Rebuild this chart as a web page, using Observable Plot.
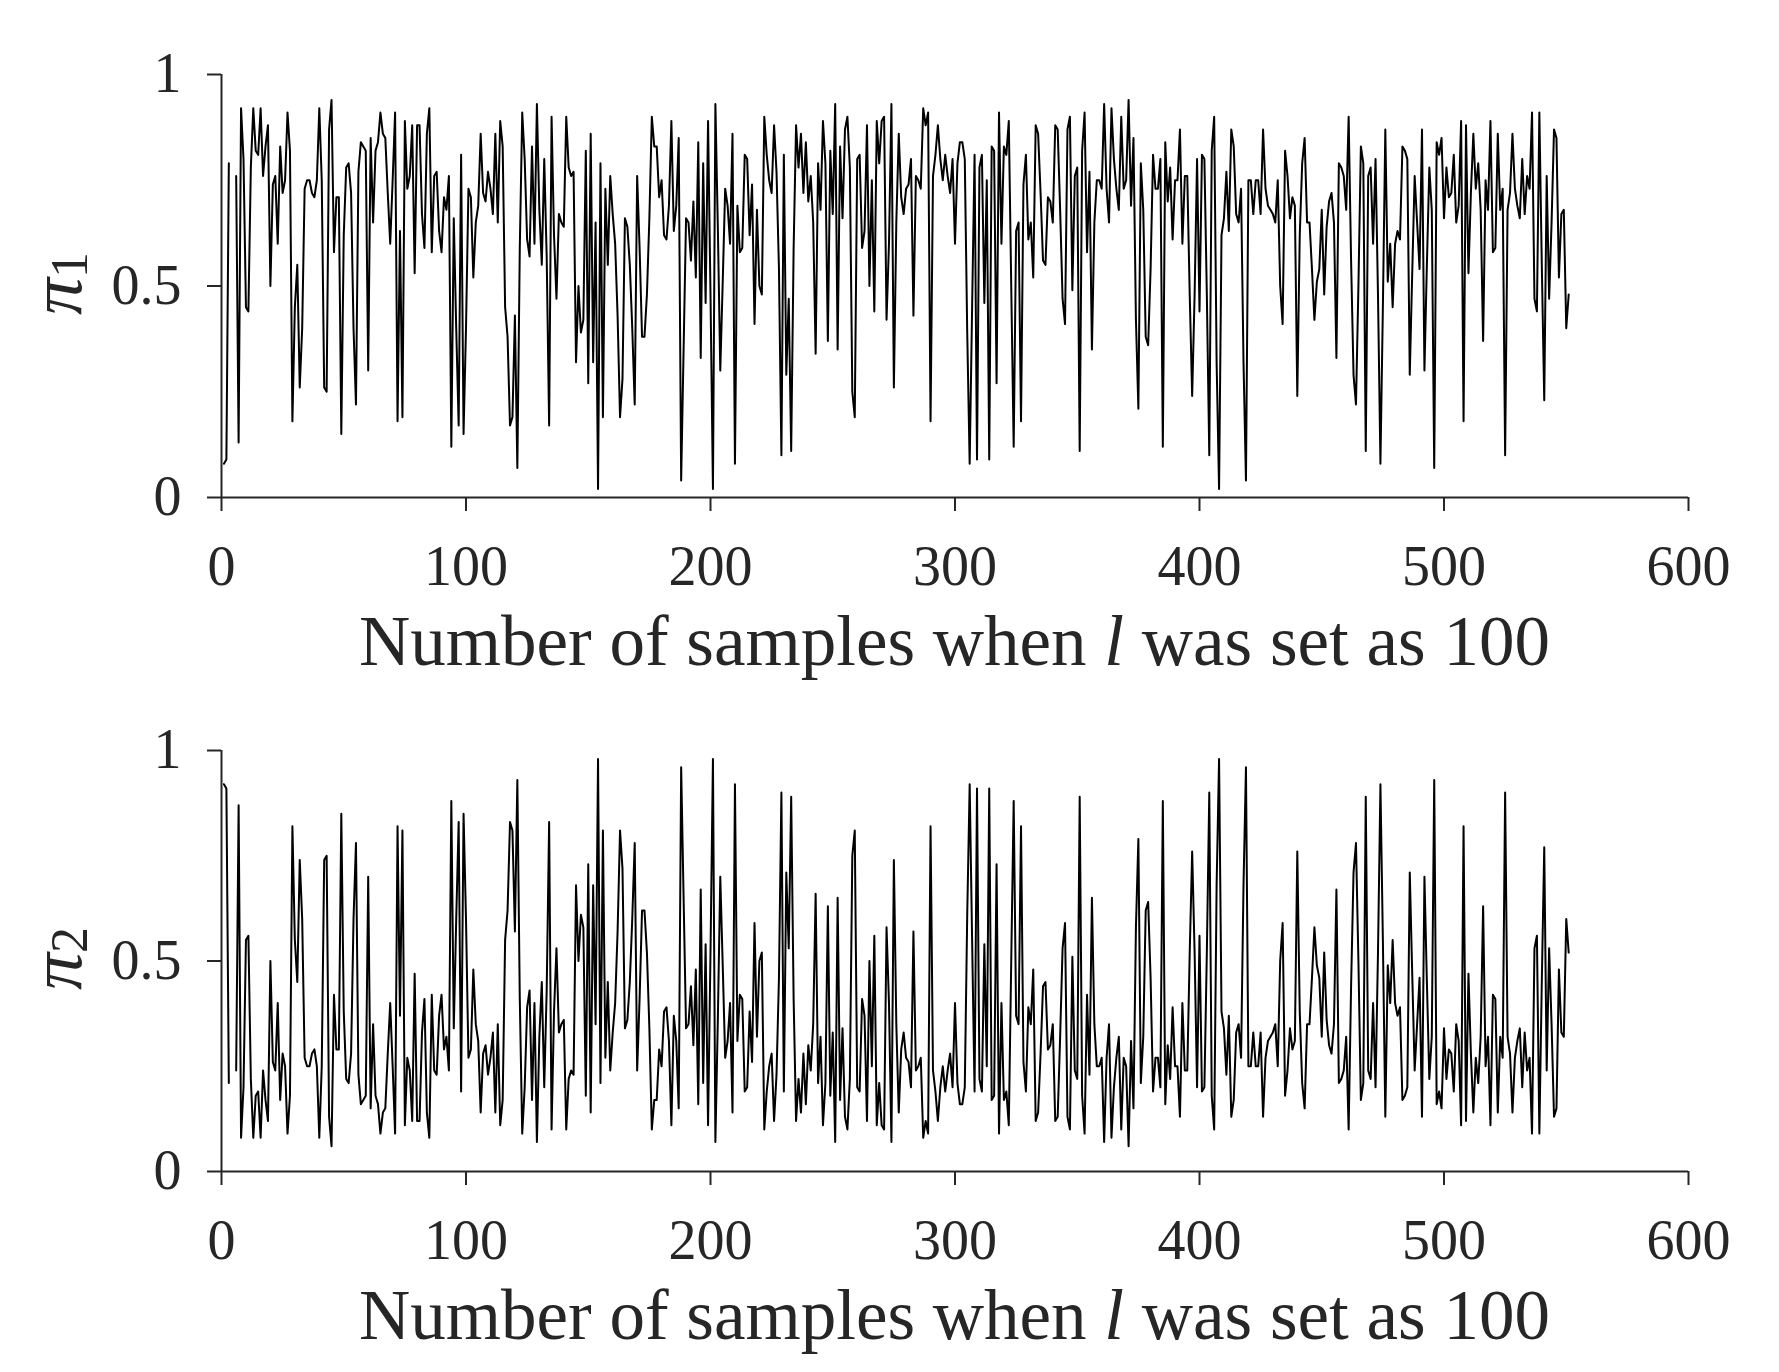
<!DOCTYPE html>
<html><head><meta charset="utf-8">
<script src="https://cdn.jsdelivr.net/npm/d3@7"></script>
<script src="https://cdn.jsdelivr.net/npm/@observablehq/plot@0.6"></script>
<style>
html,body{margin:0;padding:0;background:#fff;overflow:hidden;}
#chart svg{display:block;}
</style></head><body><div id="chart"></div>
<script>
// pi_1 trace, samples 1..551 (samples 4 and 5 are gaps in the original trace)
const pi1 = [
0.08,0.09,0.79,null,null,0.76,0.13,0.92,0.80,0.45,
0.44,0.78,0.92,0.82,0.81,0.92,0.76,0.83,0.88,0.50,
0.74,0.76,0.60,0.83,0.72,0.75,0.91,0.82,0.18,0.45,
0.55,0.26,0.40,0.73,0.75,0.75,0.72,0.71,0.75,0.92,
0.75,0.26,0.25,0.87,0.94,0.58,0.71,0.71,0.15,0.62,
0.78,0.79,0.72,0.40,0.22,0.77,0.84,0.83,0.82,0.30,
0.85,0.65,0.82,0.84,0.91,0.86,0.85,0.72,0.60,0.75,
0.91,0.18,0.63,0.19,0.89,0.73,0.76,0.88,0.53,0.88,
0.88,0.67,0.59,0.86,0.92,0.58,0.76,0.77,0.63,0.58,
0.71,0.68,0.76,0.12,0.66,0.40,0.17,0.81,0.15,0.40,
0.73,0.71,0.52,0.65,0.69,0.86,0.72,0.70,0.77,0.73,
0.67,0.86,0.65,0.89,0.83,0.45,0.38,0.17,0.19,0.43,
0.07,0.59,0.91,0.80,0.61,0.57,0.83,0.60,0.93,0.68,
0.55,0.80,0.57,0.17,0.90,0.62,0.47,0.67,0.65,0.64,
0.90,0.78,0.76,0.77,0.32,0.50,0.39,0.42,0.82,0.27,
0.86,0.32,0.65,0.02,0.79,0.19,0.73,0.55,0.76,0.67,
0.60,0.43,0.19,0.28,0.66,0.64,0.55,0.40,0.22,0.76,
0.59,0.38,0.38,0.48,0.66,0.90,0.83,0.83,0.71,0.75,
0.62,0.61,0.69,0.89,0.63,0.69,0.85,0.04,0.35,0.66,
0.65,0.56,0.70,0.52,0.84,0.33,0.79,0.46,0.89,0.48,
0.02,0.93,0.64,0.30,0.51,0.73,0.69,0.60,0.86,0.08,
0.69,0.58,0.59,0.81,0.80,0.62,0.74,0.41,0.68,0.50,
0.48,0.90,0.81,0.75,0.72,0.88,0.77,0.54,0.10,0.81,
0.29,0.47,0.11,0.59,0.88,0.78,0.86,0.72,0.84,0.70,
0.76,0.65,0.34,0.79,0.68,0.89,0.79,0.37,0.82,0.67,
0.93,0.35,0.83,0.66,0.87,0.90,0.78,0.25,0.19,0.80,
0.81,0.59,0.63,0.88,0.50,0.75,0.44,0.89,0.79,0.89,
0.90,0.42,0.60,0.93,0.26,0.65,0.86,0.71,0.67,0.73,
0.74,0.80,0.43,0.76,0.75,0.73,0.92,0.88,0.91,0.18,
0.76,0.81,0.88,0.80,0.75,0.81,0.76,0.72,0.80,0.60,
0.79,0.84,0.84,0.80,0.39,0.08,0.45,0.81,0.09,0.78,
0.81,0.46,0.75,0.09,0.83,0.82,0.27,0.91,0.60,0.83,
0.81,0.89,0.50,0.12,0.63,0.65,0.18,0.74,0.81,0.61,
0.65,0.52,0.88,0.86,0.72,0.56,0.55,0.71,0.70,0.65,
0.88,0.87,0.68,0.47,0.41,0.87,0.90,0.49,0.76,0.78,
0.11,0.82,0.91,0.58,0.77,0.35,0.65,0.75,0.75,0.73,
0.93,0.73,0.65,0.92,0.80,0.73,0.68,0.90,0.73,0.75,
0.94,0.69,0.85,0.42,0.21,0.79,0.68,0.38,0.36,0.54,
0.81,0.73,0.73,0.80,0.12,0.84,0.70,0.78,0.61,0.75,
0.75,0.87,0.60,0.76,0.76,0.48,0.24,0.48,0.80,0.44,
0.81,0.80,0.48,0.10,0.82,0.90,0.32,0.02,0.62,0.66,
0.77,0.63,0.87,0.83,0.67,0.65,0.73,0.32,0.04,0.75,
0.75,0.67,0.75,0.75,0.67,0.87,0.73,0.69,0.68,0.67,
0.65,0.75,0.50,0.41,0.82,0.76,0.66,0.71,0.69,0.24,
0.62,0.79,0.85,0.65,0.65,0.54,0.42,0.51,0.54,0.68,
0.48,0.64,0.70,0.72,0.65,0.33,0.79,0.78,0.76,0.68,
0.90,0.56,0.29,0.22,0.50,0.83,0.79,0.11,0.76,0.78,
0.60,0.80,0.48,0.08,0.45,0.87,0.51,0.60,0.45,0.60,
0.63,0.61,0.83,0.82,0.80,0.29,0.53,0.76,0.65,0.54,
0.87,0.30,0.55,0.78,0.68,0.07,0.84,0.81,0.85,0.66,
0.78,0.71,0.72,0.81,0.65,0.69,0.89,0.18,0.88,0.53,
0.72,0.86,0.73,0.79,0.68,0.37,0.75,0.68,0.89,0.58,
0.59,0.86,0.68,0.73,0.10,0.68,0.72,0.86,0.73,0.69,
0.66,0.80,0.67,0.76,0.73,0.91,0.47,0.44,0.91,0.55,
0.23,0.76,0.47,0.65,0.87,0.85,0.52,0.67,0.68,0.40,0.48
];
// pi_2 trace, samples 1..551
const pi2 = [
0.92,0.91,0.21,null,null,0.24,0.87,0.08,0.20,0.55,
0.56,0.22,0.08,0.18,0.19,0.08,0.24,0.17,0.12,0.50,
0.26,0.24,0.40,0.17,0.28,0.25,0.09,0.18,0.82,0.55,
0.45,0.74,0.60,0.27,0.25,0.25,0.28,0.29,0.25,0.08,
0.25,0.74,0.75,0.13,0.06,0.42,0.29,0.29,0.85,0.38,
0.22,0.21,0.28,0.60,0.78,0.23,0.16,0.17,0.18,0.70,
0.15,0.35,0.18,0.16,0.09,0.14,0.15,0.28,0.40,0.25,
0.09,0.82,0.37,0.81,0.11,0.27,0.24,0.12,0.47,0.12,
0.12,0.33,0.41,0.14,0.08,0.42,0.24,0.23,0.37,0.42,
0.29,0.32,0.24,0.88,0.34,0.60,0.83,0.19,0.85,0.60,
0.27,0.29,0.48,0.35,0.31,0.14,0.28,0.30,0.23,0.27,
0.33,0.14,0.35,0.11,0.17,0.55,0.62,0.83,0.81,0.57,
0.93,0.41,0.09,0.20,0.39,0.43,0.17,0.40,0.07,0.32,
0.45,0.20,0.43,0.83,0.10,0.38,0.53,0.33,0.35,0.36,
0.10,0.22,0.24,0.23,0.68,0.50,0.61,0.58,0.18,0.73,
0.14,0.68,0.35,0.98,0.21,0.81,0.27,0.45,0.24,0.33,
0.40,0.57,0.81,0.72,0.34,0.36,0.45,0.60,0.78,0.24,
0.41,0.62,0.62,0.52,0.34,0.10,0.17,0.17,0.29,0.25,
0.38,0.39,0.31,0.11,0.37,0.31,0.15,0.96,0.65,0.34,
0.35,0.44,0.30,0.48,0.16,0.67,0.21,0.54,0.11,0.52,
0.98,0.07,0.36,0.70,0.49,0.27,0.31,0.40,0.14,0.92,
0.31,0.42,0.41,0.19,0.20,0.38,0.26,0.59,0.32,0.50,
0.52,0.10,0.19,0.25,0.28,0.12,0.23,0.46,0.90,0.19,
0.71,0.53,0.89,0.41,0.12,0.22,0.14,0.28,0.16,0.30,
0.24,0.35,0.66,0.21,0.32,0.11,0.21,0.63,0.18,0.33,
0.07,0.65,0.17,0.34,0.13,0.10,0.22,0.75,0.81,0.20,
0.19,0.41,0.37,0.12,0.50,0.25,0.56,0.11,0.21,0.11,
0.10,0.58,0.40,0.07,0.74,0.35,0.14,0.29,0.33,0.27,
0.26,0.20,0.57,0.24,0.25,0.27,0.08,0.12,0.09,0.82,
0.24,0.19,0.12,0.20,0.25,0.19,0.24,0.28,0.20,0.40,
0.21,0.16,0.16,0.20,0.61,0.92,0.55,0.19,0.91,0.22,
0.19,0.54,0.25,0.91,0.17,0.18,0.73,0.09,0.40,0.17,
0.19,0.11,0.50,0.88,0.37,0.35,0.82,0.26,0.19,0.39,
0.35,0.48,0.12,0.14,0.28,0.44,0.45,0.29,0.30,0.35,
0.12,0.13,0.32,0.53,0.59,0.13,0.10,0.51,0.24,0.22,
0.89,0.18,0.09,0.42,0.23,0.65,0.35,0.25,0.25,0.27,
0.07,0.27,0.35,0.08,0.20,0.27,0.32,0.10,0.27,0.25,
0.06,0.31,0.15,0.58,0.79,0.21,0.32,0.62,0.64,0.46,
0.19,0.27,0.27,0.20,0.88,0.16,0.30,0.22,0.39,0.25,
0.25,0.13,0.40,0.24,0.24,0.52,0.76,0.52,0.20,0.56,
0.19,0.20,0.52,0.90,0.18,0.10,0.68,0.98,0.38,0.34,
0.23,0.37,0.13,0.17,0.33,0.35,0.27,0.68,0.96,0.25,
0.25,0.33,0.25,0.25,0.33,0.13,0.27,0.31,0.32,0.33,
0.35,0.25,0.50,0.59,0.18,0.24,0.34,0.29,0.31,0.76,
0.38,0.21,0.15,0.35,0.35,0.46,0.58,0.49,0.46,0.32,
0.52,0.36,0.30,0.28,0.35,0.67,0.21,0.22,0.24,0.32,
0.10,0.44,0.71,0.78,0.50,0.17,0.21,0.89,0.24,0.22,
0.40,0.20,0.52,0.92,0.55,0.13,0.49,0.40,0.55,0.40,
0.37,0.39,0.17,0.18,0.20,0.71,0.47,0.24,0.35,0.46,
0.13,0.70,0.45,0.22,0.32,0.93,0.16,0.19,0.15,0.34,
0.22,0.29,0.28,0.19,0.35,0.31,0.11,0.82,0.12,0.47,
0.28,0.14,0.27,0.21,0.32,0.63,0.25,0.32,0.11,0.42,
0.41,0.14,0.32,0.27,0.90,0.32,0.28,0.14,0.27,0.31,
0.34,0.20,0.33,0.24,0.27,0.09,0.53,0.56,0.09,0.45,
0.77,0.24,0.53,0.35,0.13,0.15,0.48,0.33,0.32,0.60,0.52
];
const xTicks = [0, 100, 200, 300, 400, 500, 600];
const yTicks = [0, 0.5, 1];
const xLabelParts = ["Number of samples when ", "l", " was set as 100"];
const yLabelSubs = ["1", "2"];

const FONT = "'Liberation Serif', 'Times New Roman', serif";
const AX = "#262626";
const W = 1779, ML = 221, MR = 91, MT = 74;

function panel(values, sub, h, mb) {
  const data = values.map((v, i) => ({n: i + 1, v}));
  const svg = Plot.plot({
    width: W, height: h,
    marginTop: MT, marginLeft: ML, marginRight: MR, marginBottom: mb,
    style: {fontFamily: FONT, fontSize: "56px", color: AX, background: "#fff", overflow: "visible"},
    x: {domain: [0, 600], axis: null},
    y: {domain: [0, 1], axis: null},
    marks: [
      Plot.axisX(xTicks, {tickSize: 14, tickPadding: 34, strokeWidth: 2, stroke: AX, fill: AX,
        label: null, tickFormat: d => String(d), fontSize: 56}),
      Plot.axisY(yTicks, {tickSize: 14, tickPadding: 26, strokeWidth: 2, stroke: AX, fill: AX,
        label: null, tickFormat: d => String(d), fontSize: 56}),
      Plot.ruleX([0], {stroke: AX, strokeWidth: 2}),
      Plot.ruleY([0], {stroke: AX, strokeWidth: 2}),
      Plot.lineY(data, {x: "n", y: "v", stroke: "#000", strokeWidth: 2})
    ]
  });
  const s = d3.select(svg);
  const innerH = h - MT - mb;
  // y label: pi with subscript
  const yl = s.append("text")
    .attr("transform", `translate(56,${MT + innerH / 2 - 2}) rotate(-90)`)
    .attr("text-anchor", "middle")
    .attr("dominant-baseline", "central")
    .attr("font-family", FONT)
    .attr("font-size", 74)
    .attr("fill", AX);
  yl.append("tspan").attr("font-style", "italic").text("π");
  yl.append("tspan").attr("font-size", 52).attr("dy", 13).text(sub);
  // x label
  const xl = s.append("text")
    .attr("x", ML + (W - ML - MR) / 2)
    .attr("y", MT + innerH + 168)
    .attr("text-anchor", "middle")
    .attr("font-family", FONT)
    .attr("font-size", 71)
    .attr("fill", AX);
  xl.append("tspan").text(xLabelParts[0]);
  xl.append("tspan").attr("font-style", "italic").text(xLabelParts[1]);
  xl.append("tspan").text(xLabelParts[2]);
  return svg;
}

const root = document.getElementById("chart");
root.appendChild(panel(pi1, yLabelSubs[0], 676, 179));
root.appendChild(panel(pi2, yLabelSubs[1], 696, 201));
</script></body></html>
